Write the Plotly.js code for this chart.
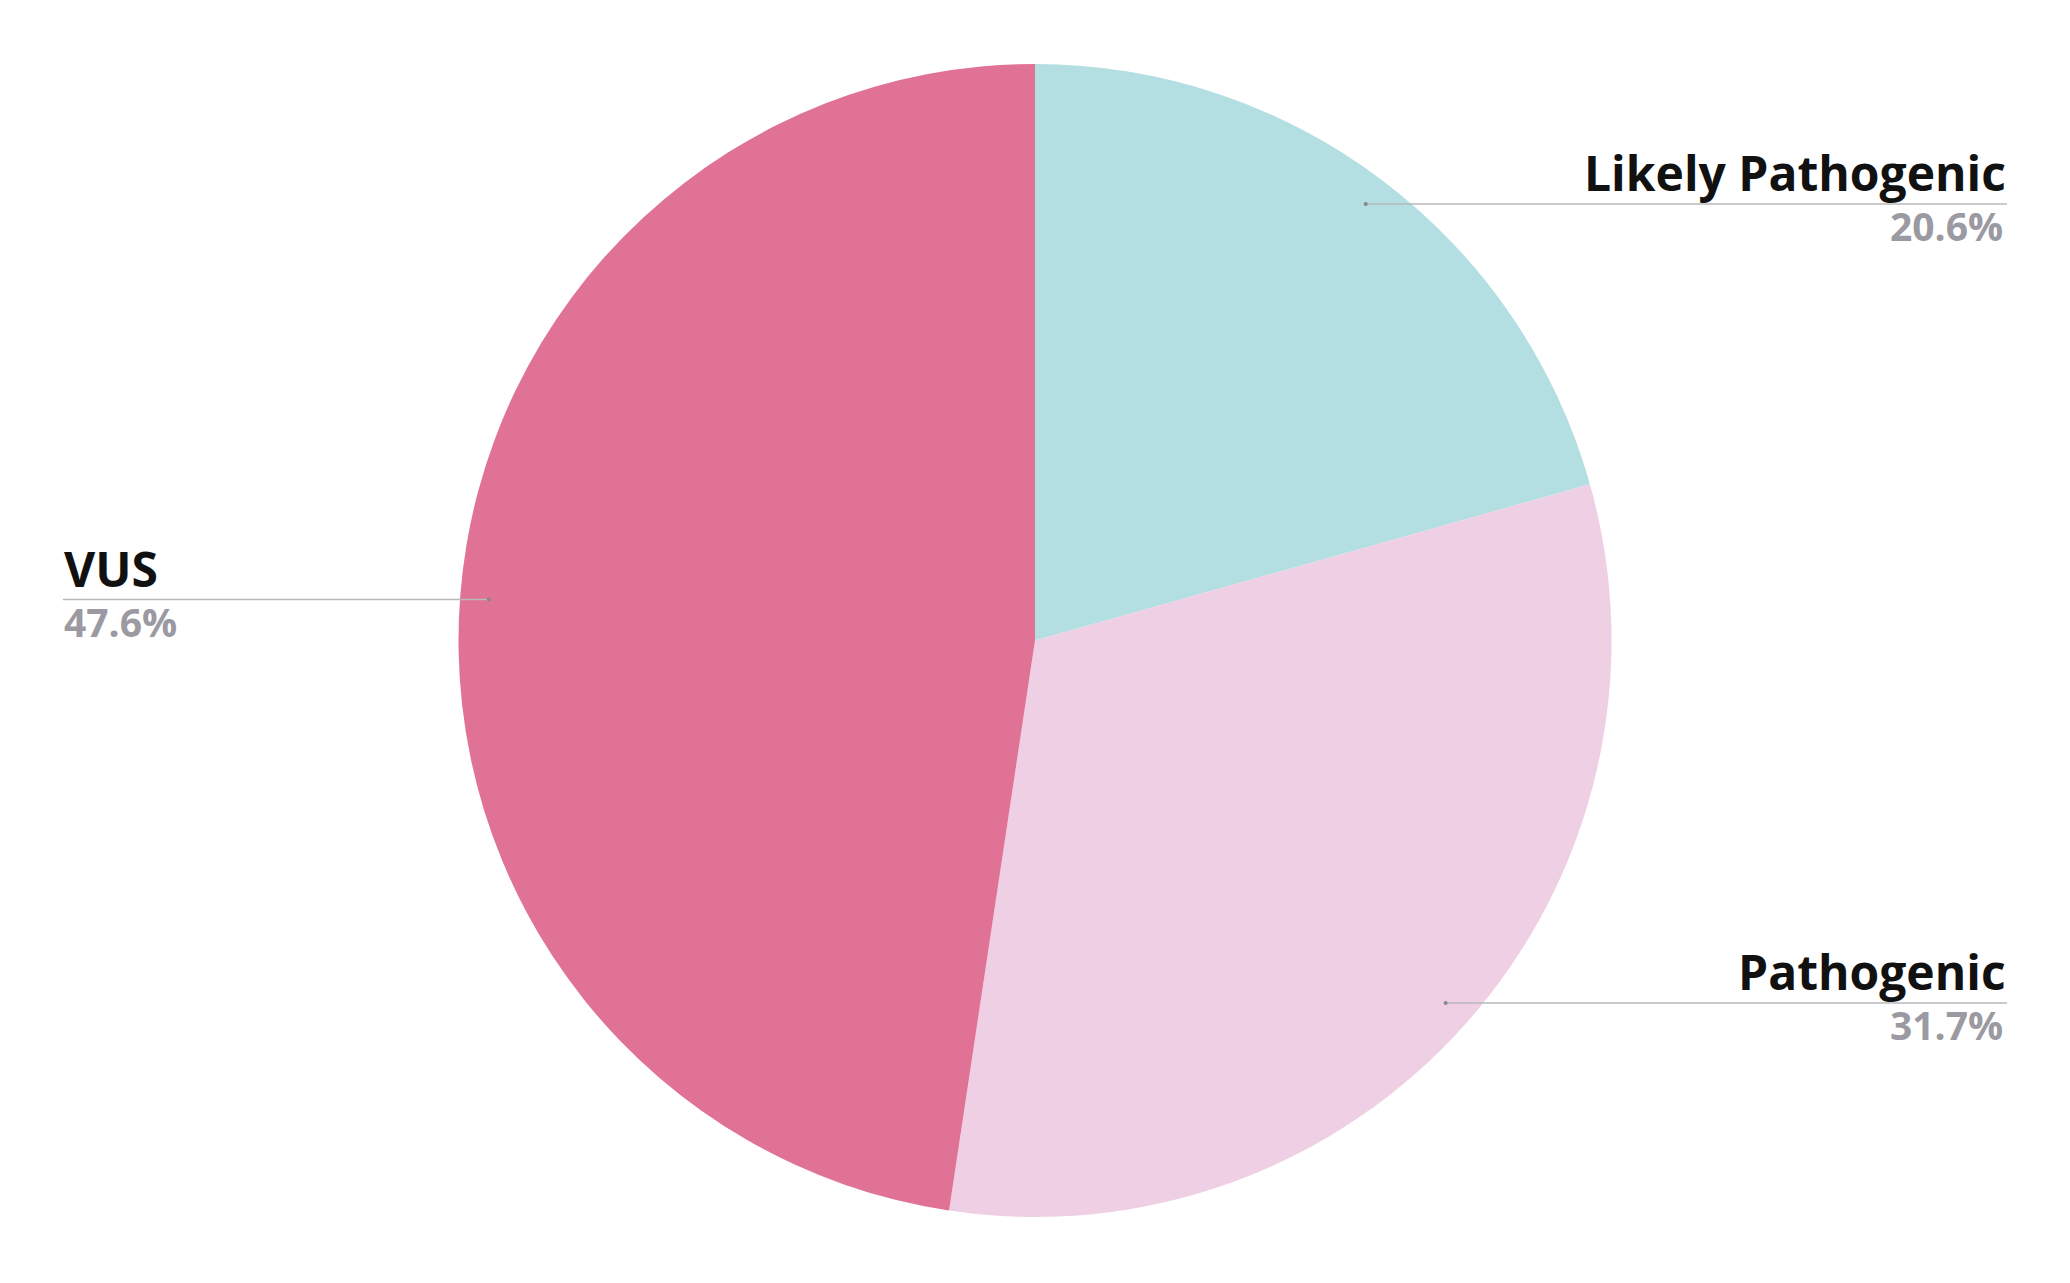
<!DOCTYPE html>
<html>
<head>
<meta charset="utf-8">
<script src="https://cdn.plot.ly/plotly-3.0.1.min.js"></script>
<style>html,body{margin:0;padding:0;background:#fff;}#chart{width:2070px;height:1283px;}</style>
</head>
<body>
<div id="chart"></div>
<script>
// ---- data ----
const categories = ['Likely Pathogenic', 'Pathogenic', 'VUS'];
const counts = [13, 20, 30];
const sliceColors = ['#b3dfe2', '#efcfe3', '#e07295'];

// ---- layout constants ----
const W = 2070, H = 1283;
const padTop = 64, padBottom = 66;
const sideMargin = 63;
const leaderStart = 0.95;   // fraction of radius where leader line begins
const nameFont = {family: '"Open Sans", sans-serif', size: 48, color: '#111111', weight: 'bold'};
const pctFont = {family: '"Open Sans", sans-serif', size: 39, color: '#9b99a1', weight: 'bold'};

const total = counts.reduce((a, b) => a + b, 0);
const cx = W / 2;
const cy = padTop + (H - padTop - padBottom) / 2;
const R = (H - padTop - padBottom) / 2;

const shapes = [];
const annotations = [];
let cum = 0;
counts.forEach((v, i) => {
  const frac = v / total;
  const mid = (cum + frac / 2) * 2 * Math.PI; // clockwise from top
  cum += frac;
  const sx = cx + leaderStart * R * Math.sin(mid);
  const sy = cy - leaderStart * R * Math.cos(mid);
  const right = Math.sin(mid) >= 0;
  const ex = right ? W - sideMargin : sideMargin;
  const px = x => x / W, py = y => 1 - y / H;
  shapes.push({type: 'line', xref: 'paper', yref: 'paper', x0: px(sx), y0: py(sy), x1: px(ex), y1: py(sy),
    line: {color: '#b8b8bb', width: 1.5}});
  shapes.push({type: 'circle', xref: 'paper', yref: 'paper', x0: px(sx - 2), x1: px(sx + 2), y0: py(sy - 2), y1: py(sy + 2),
    fillcolor: '#888', line: {width: 0}});
  annotations.push({xref: 'paper', yref: 'paper', x: px(ex), y: py(sy + 2), xanchor: right ? 'right' : 'left', yanchor: 'bottom',
    text: categories[i], showarrow: false, font: nameFont, borderpad: 0});
  annotations.push({xref: 'paper', yref: 'paper', x: px(right ? ex - 3 : ex), y: py(sy - 6), xanchor: right ? 'right' : 'left', yanchor: 'top',
    text: (frac * 100).toFixed(1) + '%', showarrow: false, font: pctFont, borderpad: 0});
});

const trace = {
  type: 'pie',
  labels: categories,
  values: counts,
  sort: false,
  direction: 'clockwise',
  rotation: 0,
  textinfo: 'none',
  hoverinfo: 'label+percent',
  marker: {colors: sliceColors, line: {width: 0}},
  domain: {x: [0, 1], y: [padBottom / H, 1 - padTop / H]},
  showlegend: false
};

const layout = {
  width: W, height: H,
  margin: {l: 0, r: 0, t: 0, b: 0},
  paper_bgcolor: '#ffffff',
  showlegend: false,
  shapes: shapes,
  annotations: annotations
};

Plotly.newPlot('chart', [trace], layout, {displayModeBar: false, staticPlot: true});
</script>
</body>
</html>
